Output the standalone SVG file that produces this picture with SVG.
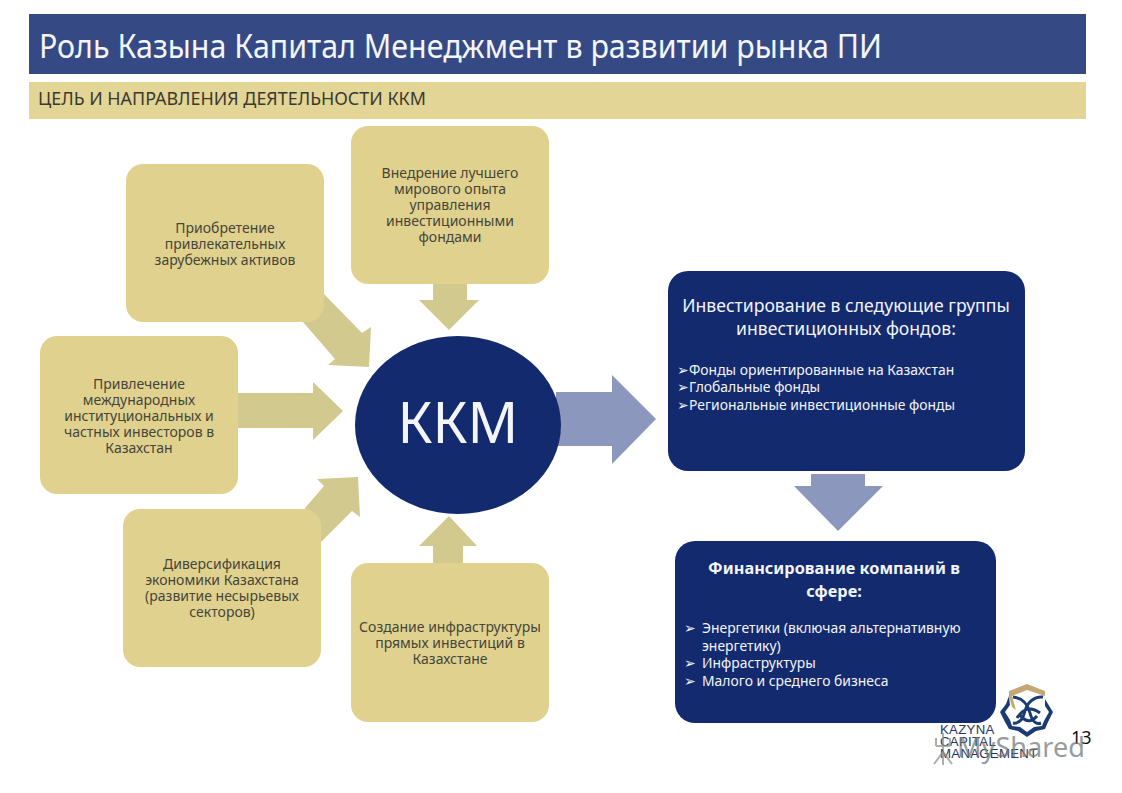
<svg xmlns="http://www.w3.org/2000/svg" width="1122" height="793" viewBox="0 0 1122 793">
<style>
text{font-family:"Noto Sans","Open Sans","Liberation Sans",sans-serif}
.g{fill:#e0d28e}
.a{fill:#d2c98f}
.b{fill:#132a6e}
.d{font-size:14px;fill:#45453a;text-anchor:middle}
.w{fill:#f2f4fa}
.h{font-size:17.6px;text-anchor:middle}
.hb{font-size:16.3px;text-anchor:middle;font-weight:700}
.l{font-size:13.9px}
.lg{font-size:13.2px;fill:#26365f;font-family:"Liberation Sans",sans-serif}
.k{fill:none;stroke:#1d3b73;stroke-width:3}
</style>
<rect width="1122" height="793" fill="#fff"/>
<g id="header">
<rect x="29" y="14" width="1057" height="60" fill="#354a85"/>
<text x="39" y="58" font-size="32" fill="#f4f5f8" textLength="843" lengthAdjust="spacingAndGlyphs">Роль Казына Капитал Менеджмент в развитии рынка ПИ</text>
<rect x="29" y="82" width="1057" height="37" fill="#e3d595"/>
<text x="38" y="105" font-size="18" fill="#3a3a30" textLength="388" lengthAdjust="spacingAndGlyphs">ЦЕЛЬ И НАПРАВЛЕНИЯ ДЕЯТЕЛЬНОСТИ ККМ</text>
</g>
<g id="connectors">
<polygon class="a" points="323,293 362,333 371,327 369,367 328,365 335,359 303,322"/>
<polygon class="a" points="238,393 313,393 313,382 343,411 313,440 313,428 238,428"/>
<polygon class="a" points="305,508 324,486 317,479 358,477 360,517 352,511 321,542"/>
<polygon class="a" points="433,284 467,284 467,300 479,300 449,330 419,300 433,300"/>
<polygon class="a" points="433,563 463,563 463,546 477,546 449,516 419,546 433,546"/>
<polygon fill="#8b97bd" points="556,392 612,392 612,375 656,419 612,464 612,446 556,446"/>
<polygon fill="#8b97bd" points="811,474 865,474 865,486 883,486 838,531 794,486 811,486"/>
</g>
<g id="node-acquire"><rect class="g" x="126" y="164" width="198" height="158" rx="17"/>
<text class="d"><tspan x="225" y="233">Приобретение</tspan><tspan x="225" y="249">привлекательных</tspan><tspan x="225" y="265">зарубежных активов</tspan></text></g>
<g id="node-best"><rect class="g" x="351" y="126" width="198" height="158" rx="17"/>
<text class="d"><tspan x="450" y="178">Внедрение лучшего</tspan><tspan x="450" y="194">мирового опыта</tspan><tspan x="450" y="210">управления</tspan><tspan x="450" y="226">инвестиционными</tspan><tspan x="450" y="242">фондами</tspan></text></g>
<g id="node-attract"><rect class="g" x="40" y="336" width="198" height="158" rx="17"/>
<text class="d"><tspan x="139" y="389">Привлечение</tspan><tspan x="139" y="405">международных</tspan><tspan x="139" y="421">институциональных и</tspan><tspan x="139" y="437">частных инвесторов в</tspan><tspan x="139" y="453">Казахстан</tspan></text></g>
<g id="node-divers"><rect class="g" x="123" y="509" width="198" height="158" rx="17"/>
<text class="d"><tspan x="222" y="569">Диверсификация</tspan><tspan x="222" y="585">экономики Казахстана</tspan><tspan x="222" y="601">(развитие несырьевых</tspan><tspan x="222" y="617">секторов)</tspan></text></g>
<g id="node-infra"><rect class="g" x="351" y="563" width="198" height="159" rx="17"/>
<text class="d"><tspan x="450" y="632">Создание инфраструктуры</tspan><tspan x="450" y="648">прямых инвестиций в</tspan><tspan x="450" y="664">Казахстане</tspan></text></g>
<g id="node-kkm"><ellipse class="b" cx="458" cy="425" rx="103" ry="89"/>
<text x="458" y="443" font-size="56" fill="#f4f5f8" text-anchor="middle">ККМ</text></g>
<g id="node-invest"><rect class="b" x="668" y="271" width="357" height="200" rx="20"/>
<text class="w h"><tspan x="846" y="312">Инвестирование в следующие группы</tspan><tspan x="846" y="335">инвестиционных фондов:</tspan></text>
<text class="w l"><tspan x="677" y="375">➢Фонды ориентированные на Казахстан</tspan><tspan x="677" y="392">➢Глобальные фонды</tspan><tspan x="677" y="410">➢Региональные инвестиционные фонды</tspan></text></g>
<g id="node-finance"><rect class="b" x="675" y="541" width="321" height="182" rx="20"/>
<text class="w hb"><tspan x="834" y="574">Финансирование компаний в</tspan><tspan x="834" y="597">сфере:</tspan></text>
<text class="w l"><tspan x="684" y="633">➢</tspan><tspan x="702" y="633">Энергетики (включая альтернативную</tspan><tspan x="702" y="651">энергетику)</tspan><tspan x="684" y="668">➢</tspan><tspan x="702" y="668">Инфраструктуры</tspan><tspan x="684" y="686">➢</tspan><tspan x="702" y="686">Малого и среднего бизнеса</tspan></text></g>
<g id="logo">
<path d="M1009 696 L1009 691 L1027 684 L1045 691 L1045 696 L1027 690 L1012 696 L1016 710 L1012 707Z" fill="#c3a875"/>
<path d="M1009 696 L1006 704 L1000 712 L1005 722 L1009 729 L1018 731 L1027 737 L1036 731 L1045 729 L1048 722 L1053 712 L1048 704 L1045 699 L1045 706 L1049 712 L1044 721 L1042 726 L1034 727 L1027 732 L1020 727 L1012 726 L1010 720 L1005 712 L1010 705Z" fill="#1d3b73"/>
<path class="k" d="M1013 697 C1023 698 1028 705 1030 713 C1032 721 1036 725 1041 723 M1043 697 C1034 696 1027 703 1025 711 C1023 719 1019 724 1013 723 M1017 718 C1024 707 1032 707 1040 713 M1020 715 C1026 723 1032 722 1037 716"/>
<text class="lg" letter-spacing=".3"><tspan x="940" y="734">KAZYNA</tspan><tspan x="940" y="745.5">CAPITAL</tspan><tspan x="940" y="757.5">MANAGEMENT</tspan></text>
</g>
<g id="page-number"><text x="1071" y="744" font-size="18" fill="#111" font-family="Liberation Sans,sans-serif">13</text></g>
<g id="watermark" opacity=".72">
<path d="M936 738 L936 746 M943 733 L943 750 M950 738 L950 746 M936 746 H950 M934 764 L943 752 L952 764 M943 752 V765" fill="none" stroke="#8a918f" stroke-width="2"/>
<text x="957" y="757" font-size="28" fill="#6f7a78" font-family="Liberation Sans,sans-serif" textLength="128" lengthAdjust="spacingAndGlyphs">MyShared</text>
</g>
</svg>
